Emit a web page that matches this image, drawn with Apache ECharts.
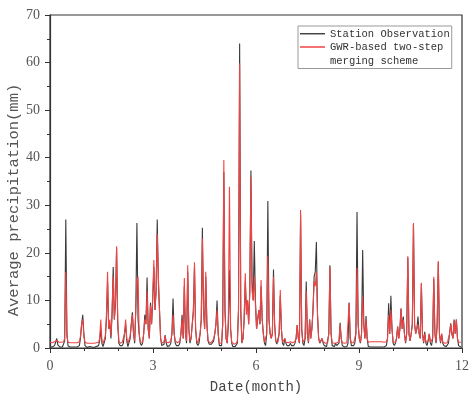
<!DOCTYPE html>
<html>
<head>
<meta charset="utf-8">
<script src="https://cdn.jsdelivr.net/npm/echarts@6/dist/echarts.min.js"></script>
<style>
  html, body { margin: 0; padding: 0; background: #fff; }
  #main { width: 474px; height: 399px; }
</style>
</head>
<body>
<div id="main"></div>
<script>
// daily average precipitation (mm), day 0..364
var obs = [
  0.3,0.2,0.2,0.3,0.5,1.2,2,0.6,0.3,0.2,
  0.2,0.2,0.3,1.5,27,3,0.4,0.2,0.2,0.2,
  0.2,0.2,0.2,0.2,0.2,0.3,0.5,2,5,7,
  3,0.5,0.2,0.1,0.1,0.3,0.2,0.2,0.1,0.1,
  0.2,0.3,0.2,0.5,1.5,4,1,0.3,0.5,2,
  6,14,4,5,2,7,17,6,9,21,
  5,1,0.5,0.3,0.5,1,3,5,1.5,0.3,
  0.5,2,5,7.5,3,1,8,26.3,6,3,
  1,0.5,1,3,7,5,14.8,4,2,9.5,
  5,10,17,8,12,27,14,8,2,0.5,
  0.3,0.8,2.7,1,0.3,0.3,0.5,1,3,10.4,
  3,1,0.5,0.3,0.5,1,3,7,2,13,
  3,1,16,4,1,2,5,8,17,4,
  1,0.5,1,3,6,25.3,8,4,15,5,
  1.5,0.8,0.5,0.8,1,1.5,3,5,10,3,
  0.5,0.3,0.5,5,37,8,2,1,5,16.4,
  4,1,0.3,0.2,0.3,0.5,1,8,64,8,
  1,2,6,14,8,10,5,12,37.3,14,
  10,22.5,10,4,6,8,5,13,6,3,
  1,0.5,3,30.9,6,3,2,3,16.5,5,
  1.5,0.8,1,3,11,4,1,0.5,2,1,
  0.5,0.3,0.5,1,0.5,0.3,0.5,1,2,4.8,
  2,1,28,4,1,0.5,2,14,3,1,
  6,2,4,8,15,16,22.3,7,2,1,
  0.8,2,1,0.5,0.3,0.3,0.5,3,17.4,3,
  0.5,0.3,0.3,1,0.5,0.3,1,5.3,2,0.5,
  0.3,0.2,0.2,0.3,1,9.5,2,0.5,0.3,0.5,
  1,3,28.6,5,2,1,3,20.6,5,2,
  6.7,2,0.3,0.2,0.2,0.2,0.2,0.2,0.2,0.2,
  0.2,0.2,0.2,0.2,0.2,0.2,0.2,0.3,0.5,2,
  9.4,3,11,4,1,0.5,1,2,4.5,2,
  4,8.3,4,6.6,3,1,3,19,3,1.5,
  3,5,26,5,3,4,6.6,3,2,13.5,
  3,1,3.4,1,0.5,1.5,3,1,0.5,2,
  14.5,3,1,5,18,3,1,3,1,0.5,
  0.3,0.3,0.5,1,3,5.2,3,2,6,3,
  6,2,0.5,0.3,0.2
];
var gwr = [
  1.2,1.2,1.1,1.2,1.3,1.4,1.6,1.3,1.2,1.2,
  1.2,1.2,1.3,2,16,2.5,1.2,1.1,1.1,1.1,
  1.1,1.1,1.1,1.1,1.1,1.2,1.3,2.5,5,6,
  2.5,1.2,1.1,1,1,1,1,1,1,1,
  1,1.1,1,1.2,2,6,1.5,1,1.2,2.5,
  7,16,4,6,2.5,8,15,6,10,21.4,
  6,1.5,1,1,1.2,1.5,3,6,2,1,
  1,2.5,5,7,3,1.5,8,14,15,3,
  1.2,1,1.2,3,6,5,12,4,2,9,
  5,11,18.5,8,12,24,15,8,2,1,
  1.1,1.3,2.5,1.2,1.1,1.1,1.2,1.5,3,7,
  3,1.5,1.2,1.1,1.2,1.5,3,6,2,14.7,
  3,1.5,17.4,4,1.5,2,5,7,18,4,
  1.5,1,1.2,3,6,23,8,4,16,5,
  1.5,1.2,1,1.2,1.5,2,3,5,8,3,
  1,1,1,5,39.5,8,2,1,6,33.9,
  4,1.2,1,0.8,1,1,1.5,8,59.8,8,
  1.2,2,6,15.7,7,10,5,12,36,12,
  10,15,9,4,6,8,5,14.3,6,3,
  1.2,1,3,19.4,6,3,2,3,15,5,
  1.5,1.2,1.2,3,12.2,4,1.2,1,2,1.2,
  1.2,1.1,1.2,1.3,1.2,1.1,1.2,1.4,2,4.8,
  2,1.2,29,4,1.2,1,2,12,3,1.2,
  6,2,4,8,14,13,16,7,2,1.2,
  1.2,2,1.3,1.1,1,1,1.1,3,17,3,
  1.1,1,1,1.3,1.1,1,1.3,5,2,1.1,
  1,1,1,1.1,1.3,9.5,2,1.1,1,1.1,
  1.2,3,16.8,5,2,1.2,3,10.8,5,2,
  6,2,1.2,1.3,1.3,1.3,1.3,1.3,1.3,1.3,
  1.3,1.3,1.3,1.3,1.3,1.3,1.2,1.2,1.3,2,
  7,3,8,4,1.2,1,1.2,2,4.5,2,
  4,8.3,4,6,3,1.2,3,19.3,3,1.5,
  3,5,26.3,5,3,4,5,3,2,13.7,
  3,1.2,3,1.2,1,1.5,3,1.2,1,2,
  15,3,1.2,5,18.3,3,1.2,3,1.2,1,
  1,1,1.1,1.2,3,5,3,2,5.7,3,
  6,2,1.2,1.2,1.2
];
var seriesNames = ['Station Observation', 'GWR-based two-step\nmerging scheme'];
var xTicks = [0, 3, 6, 9, 12];
var yTicks = [0, 10, 20, 30, 40, 50, 60, 70];

// day index -> month position on the x axis
function toMonth(arr) {
  return arr.map(function(v, i) { return [i * 12 / 365, v]; });
}

var serif = '"Liberation Serif", "DejaVu Serif", serif';
var mono = '"Liberation Mono", "DejaVu Sans Mono", monospace';

var myChart = echarts.init(document.getElementById('main'));

var option = {
  animation: false,
  backgroundColor: '#fff',
  grid: {
    left: 50, right: 12, top: 15, bottom: 51,
    outerBoundsMode: 'none',
    containLabel: false,
    show: true, borderColor: '#333', borderWidth: 1.2
  },
  legend: {
    orient: 'vertical',
    left: 298, top: 26,
    padding: [1, 2, 1, 2],
    itemGap: 0,
    itemWidth: 25, itemHeight: 26,
    symbolKeepAspect: true,
    borderColor: '#999', borderWidth: 1, borderRadius: 0,
    textStyle: { fontFamily: mono, fontSize: 10.5, lineHeight: 13.5, color: '#333' },
    data: [
      { name: seriesNames[0], icon: 'path://M0,0h25v1.4h-25z', itemStyle: { color: '#3a3a3a' } },
      { name: seriesNames[1], icon: 'path://M0,0h0.01M0,5.3h25v1.4h-25zM0,26h0.01', itemStyle: { color: '#f04444' } }
    ]
  },
  xAxis: {
    type: 'value',
    min: xTicks[0], max: xTicks[xTicks.length - 1], interval: 3,
    name: 'Date(month)',
    nameLocation: 'middle',
    nameGap: 32,
    nameMoveOverlap: false,
    nameTextStyle: { fontFamily: mono, fontSize: 14, color: '#444' },
    axisLine: { lineStyle: { color: '#333', width: 1.2 } },
    axisTick: { length: 5, lineStyle: { color: '#333' } },
    minorTick: { show: true, splitNumber: 3, length: 3, lineStyle: { color: '#333' } },
    axisLabel: { margin: 11, fontFamily: serif, fontSize: 14, color: '#555' },
    splitLine: { show: false }
  },
  yAxis: {
    type: 'value',
    min: yTicks[0], max: yTicks[yTicks.length - 1], interval: 10,
    name: 'Average precipitation(mm)',
    nameLocation: 'middle',
    nameGap: 28,
    nameMoveOverlap: false,
    nameTextStyle: { fontFamily: mono, fontSize: 15.5, color: '#555', padding: [0, 37, 0, 0] },
    axisLine: { show: true, lineStyle: { color: '#333', width: 1.2 } },
    axisTick: { length: 5, lineStyle: { color: '#333' } },
    minorTick: { show: true, splitNumber: 2, length: 3, lineStyle: { color: '#333' } },
    axisLabel: { margin: 10, fontFamily: serif, fontSize: 14, color: '#555' },
    splitLine: { show: false }
  },
  series: [{
    name: seriesNames[0],
    type: 'line',
    symbol: 'none',
    lineStyle: { color: '#3a3a3a', width: 1.1 },
    itemStyle: { color: '#3a3a3a' },
    data: toMonth(obs)
  }, {
    name: seriesNames[1],
    type: 'line',
    symbol: 'none',
    lineStyle: { color: '#f04444', width: 1.1 },
    itemStyle: { color: '#f04444' },
    data: toMonth(gwr)
  }]
};

myChart.setOption(option);
</script>
</body>
</html>
